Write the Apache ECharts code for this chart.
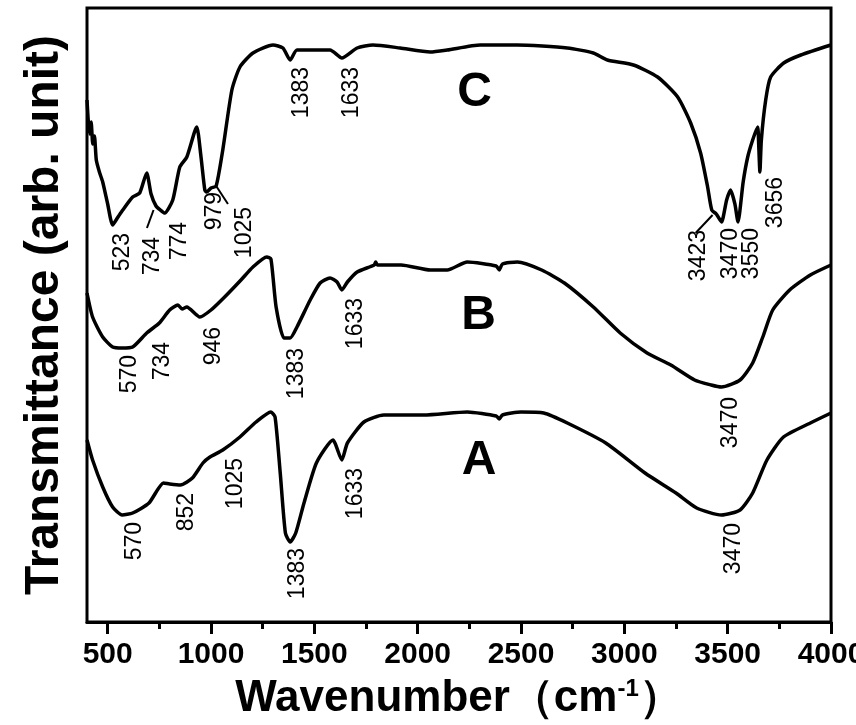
<!DOCTYPE html>
<html>
<head>
<meta charset="utf-8">
<script src="https://cdn.jsdelivr.net/npm/echarts@6/dist/echarts.min.js"></script>
<style>
  html, body { margin: 0; padding: 0; background: #fff; }
  #chart { width: 856px; height: 725px; }
</style>
</head>
<body>
<div id="chart"></div>
<script>
// FTIR spectra, [wavenumber, transmittance (arb.)]
const curveC = [
  [400, 522], [412, 488], [420, 500], [428, 478], [436, 486], [445, 462], [460, 450], [476, 440],
  [500, 418], [524, 397], [550, 405], [573, 412], [621, 425], [655, 429], [689, 449],
  [710, 428], [734, 416], [755, 412], [776, 409], [815, 422], [849, 455], [883, 465],
  [931, 495], [950, 468], [970, 432], [979, 430], [1000, 434], [1025, 436], [1057, 472],
  [1101, 532], [1140, 555], [1203, 569], [1300, 577], [1348, 574], [1383, 562], [1416, 572],
  [1576, 572], [1633, 564], [1707, 574], [1784, 577], [1915, 574], [2061, 570], [2143, 572],
  [2303, 577], [2482, 577], [2724, 574], [2850, 569], [2918, 562], [3044, 557], [3161, 545],
  [3258, 525], [3321, 499], [3369, 469], [3403, 435], [3423, 412], [3445, 408], [3470, 400],
  [3495, 422], [3514, 432], [3535, 418], [3550, 400], [3575, 440], [3597, 465], [3621, 482],
  [3645, 495], [3650, 478], [3656, 450], [3663, 482], [3684, 522], [3708, 545], [3771, 559],
  [3854, 567], [4000, 577]
];
const curveB = [
  [400, 329], [427, 305], [476, 285], [524, 275], [570, 274], [621, 275], [689, 289],
  [750, 299], [800, 312], [840, 317], [860, 313], [883, 315], [946, 305], [1000, 312],
  [1066, 325], [1145, 342], [1203, 355], [1270, 365], [1290, 363], [1315, 315], [1353, 284],
  [1383, 284], [1416, 295], [1480, 322], [1528, 339], [1576, 344], [1610, 340], [1633, 332],
  [1660, 340], [1707, 350], [1790, 357], [1797, 360], [1805, 357], [1920, 357], [2061, 352],
  [2143, 352], [2240, 360], [2380, 356], [2395, 352], [2410, 358], [2482, 360], [2600, 352],
  [2710, 339], [2850, 315], [2980, 289], [3110, 269], [3225, 257], [3340, 242], [3420, 237],
  [3470, 235], [3560, 242], [3621, 259], [3670, 285], [3718, 312], [3800, 332], [3900, 347],
  [4000, 357]
];
const curveA = [
  [400, 182], [427, 162], [476, 135], [524, 115], [570, 107], [621, 109], [700, 119],
  [770, 139], [800, 138], [852, 137], [910, 144], [961, 159], [995, 165], [1057, 172],
  [1140, 185], [1218, 200], [1290, 210], [1310, 205], [1335, 149], [1360, 89], [1383, 80],
  [1410, 89], [1450, 119], [1510, 159], [1590, 182], [1633, 162], [1660, 179], [1740, 200],
  [1836, 207], [2030, 207], [2240, 210], [2380, 206], [2395, 203], [2410, 207], [2500, 210],
  [2610, 209], [2724, 199], [2910, 179], [3100, 149], [3250, 129], [3350, 114], [3470, 107],
  [3560, 112], [3621, 129], [3690, 162], [3770, 185], [3900, 199], [4000, 209]
];

// peak labels: [x, top of text, text]
const peaksC = [
  [573, 389, '523'], [718, 385, '734'], [849, 400, '774'], [1018, 430, '979'], [1164, 415, '1025'],
  [1440, 555, '1383'], [1682, 555, '1633'], [3360, 392, '3423'], [3515, 394, '3470'],
  [3616, 394, '3550'], [3733, 445, '3656']
];
const peaksB = [
  [607, 267, '570'], [767, 280, '734'], [1014, 295, '946'], [1416, 274, '1383'],
  [1702, 324, '1633'], [3515, 225, '3470']
];
const peaksA = [
  [631, 100, '570'], [883, 129, '852'], [1120, 164, '1025'], [1420, 74, '1383'],
  [1702, 154, '1633'], [3529, 99, '3470']
];
const curveNames = [[2276, 529, 'C'], [2295, 306, 'B'], [2297, 161, 'A']];

// small leader lines from peaks to labels
const leader734 = [[690, 394], [722, 412]];
const leader1025 = [[1025, 436], [1082, 418]];
const leader3423 = [[3345, 389], [3427, 407]];

const majorTicks = [500, 1000, 1500, 2000, 2500, 3000, 3500, 4000];
const minorTicks = [750, 1250, 1750, 2250, 2750, 3250, 3750];

const FONT = "'Liberation Sans', Arial, sans-serif";

const chart = echarts.init(document.getElementById('chart'));

const curve = (data) => ({
  type: 'line',
  data,
  showSymbol: false,
  smooth: 0.2,
  lineStyle: { color: '#000', width: 3.5 },
  silent: true,
  z: 3
});

// invisible points that only carry a text label
const textMarks = (data, size, weight, rotate) => ({
  type: 'scatter',
  data,
  symbolSize: 1,
  itemStyle: { color: 'rgba(0,0,0,0)', opacity: 1 },
  silent: true,
  labelLayout: { hideOverlap: false },
  label: {
    show: true,
    position: 'inside',
    rotate: rotate,
    align: rotate ? 'right' : 'center',
    verticalAlign: 'middle',
    formatter: p => p.data[2],
    color: '#000',
    opacity: 1,
    fontFamily: FONT,
    fontWeight: weight,
    fontSize: size
  },
  z: 4
});

const leader = (data) => ({
  type: 'line',
  data,
  showSymbol: false,
  lineStyle: { color: '#000', width: 2 },
  silent: true
});

chart.setOption({
  animation: false,
  backgroundColor: '#fff',
  grid: {
    left: 87, right: 25, top: 8, bottom: 103,
    containLabel: false,
    outerBoundsMode: 'none',
    show: true, borderColor: '#000', borderWidth: 3
  },
  xAxis: [
    {
      type: 'value',
      min: 400, max: 4000,
      name: 'Wavenumber（cm{sup|-1}）',
      nameLocation: 'middle',
      nameGap: 55,
      nameTextStyle: {
        color: '#000', fontFamily: FONT, fontWeight: 'bold', fontSize: 44,
        rich: { sup: { fontFamily: FONT, fontWeight: 'bold', fontSize: 24, verticalAlign: 'top', color: '#000' } }
      },
      axisLine: { show: true, lineStyle: { color: '#000', width: 3 } },
      axisTick: { show: true, customValues: majorTicks, length: 12, lineStyle: { color: '#000', width: 3 } },
      axisLabel: {
        customValues: majorTicks, margin: 18,
        formatter: v => String(v),
        color: '#000', fontFamily: FONT, fontWeight: 'bold', fontSize: 30
      },
      splitLine: { show: false }
    },
    {
      type: 'value',
      position: 'bottom',
      min: 400, max: 4000,
      axisLine: { show: false },
      axisTick: { show: true, customValues: minorTicks, length: 7, lineStyle: { color: '#000', width: 3 } },
      axisLabel: { show: false },
      splitLine: { show: false }
    }
  ],
  yAxis: {
    type: 'value',
    min: 0, max: 614,
    name: 'Transmittance (arb. unit)',
    nameLocation: 'middle',
    nameGap: 18,
    nameTextStyle: { color: '#000', fontFamily: FONT, fontWeight: 'bold', fontSize: 48 },
    axisLine: { show: false },
    axisTick: { show: false },
    axisLabel: { show: false },
    splitLine: { show: false }
  },
  series: [
    curve(curveC),
    curve(curveB),
    curve(curveA),
    textMarks(peaksC, 23, 'normal', 90),
    textMarks(peaksB, 23, 'normal', 90),
    textMarks(peaksA, 23, 'normal', 90),
    textMarks(curveNames, 48, 'bold', 0),
    leader(leader734),
    leader(leader1025),
    leader(leader3423)
  ]
});
</script>
</body>
</html>
